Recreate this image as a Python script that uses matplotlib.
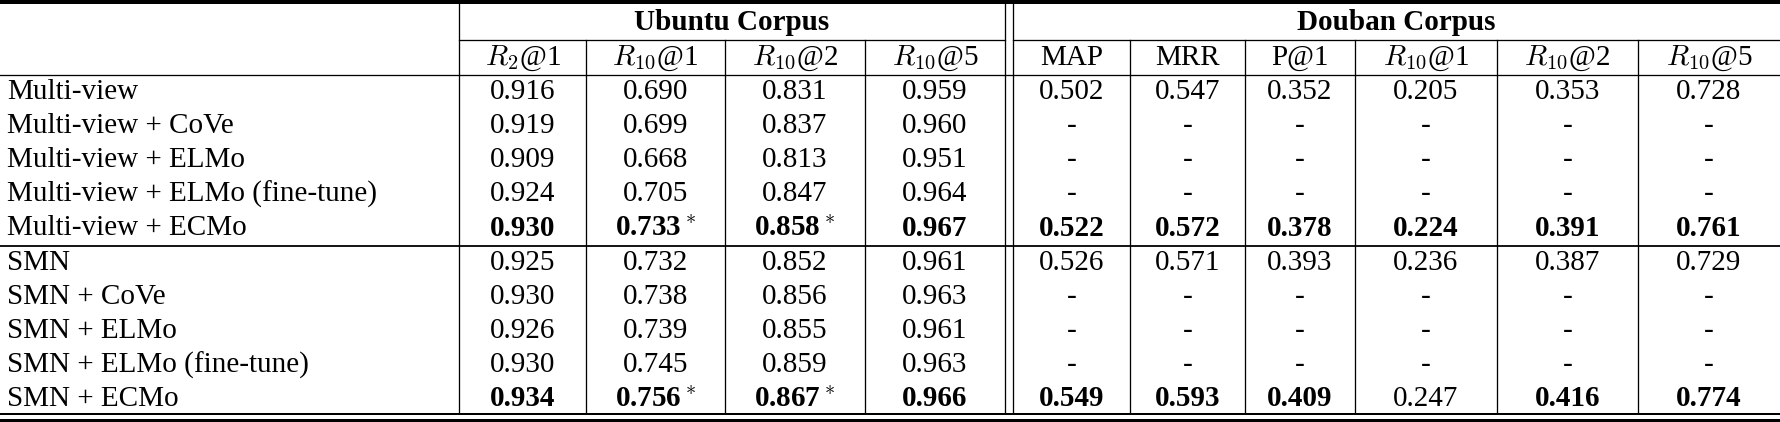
import matplotlib
matplotlib.use("Agg")
import matplotlib.pyplot as plt

plt.rcParams['font.family'] = ['Liberation Serif', 'DejaVu Serif']
plt.rcParams['mathtext.fontset'] = 'cm'

groups = ["Ubuntu Corpus", "Douban Corpus"]
metrics = [r"$R_2$@1", r"$R_{10}$@1", r"$R_{10}$@2", r"$R_{10}$@5",
           "MAP", "MRR", "P@1", r"$R_{10}$@1", r"$R_{10}$@2", r"$R_{10}$@5"]
models = ["Multi-view", "Multi-view + CoVe", "Multi-view + ELMo",
          "Multi-view + ELMo (fine-tune)", "Multi-view + ECMo",
          "SMN", "SMN + CoVe", "SMN + ELMo", "SMN + ELMo (fine-tune)", "SMN + ECMo"]
values = [
    ["0.916", "0.690", "0.831", "0.959", "0.502", "0.547", "0.352", "0.205", "0.353", "0.728"],
    ["0.919", "0.699", "0.837", "0.960", "-", "-", "-", "-", "-", "-"],
    ["0.909", "0.668", "0.813", "0.951", "-", "-", "-", "-", "-", "-"],
    ["0.924", "0.705", "0.847", "0.964", "-", "-", "-", "-", "-", "-"],
    ["0.930", "0.733*", "0.858*", "0.967", "0.522", "0.572", "0.378", "0.224", "0.391", "0.761"],
    ["0.925", "0.732", "0.852", "0.961", "0.526", "0.571", "0.393", "0.236", "0.387", "0.729"],
    ["0.930", "0.738", "0.856", "0.963", "-", "-", "-", "-", "-", "-"],
    ["0.926", "0.739", "0.855", "0.961", "-", "-", "-", "-", "-", "-"],
    ["0.930", "0.745", "0.859", "0.963", "-", "-", "-", "-", "-", "-"],
    ["0.934", "0.756*", "0.867*", "0.966", "0.549", "0.593", "0.409", "0.247", "0.416", "0.774"],
]
bold = [[False]*10, [False]*10, [False]*10, [False]*10, [True]*10,
        [False]*10, [False]*10, [False]*10, [False]*10,
        [True]*7 + [False] + [True]*2]

W, H = 1780, 422
fig = plt.figure(figsize=(W/100, H/100), dpi=100)
ax = fig.add_axes([0, 0, 1, 1])
ax.set_xlim(0, W); ax.set_ylim(H, 0); ax.axis('off')

xl = [459, 586, 725, 865, 1013, 1130, 1245, 1355, 1497, 1638]
xr = [586, 725, 865, 1005, 1130, 1245, 1355, 1497, 1638, 1780]
px = 0.72
fs = 21

ax.plot([0, W], [2, 2], color='black', lw=4*px, solid_capstyle='butt')
ax.plot([459, 1005], [40, 40], color='black', lw=1.3*px)
ax.plot([1013, W], [40, 40], color='black', lw=1.3*px)
ax.plot([0, W], [75, 75], color='black', lw=1.3*px)
ax.plot([0, W], [246, 246], color='black', lw=1.8*px)
ax.plot([0, W], [414, 414], color='black', lw=2*px)
ax.plot([0, W], [419.5, 419.5], color='black', lw=3*px)

ax.plot([459, 459], [4, 413], color='black', lw=1.3*px)
ax.plot([1005, 1005], [4, 413], color='black', lw=1.3*px)
ax.plot([1013, 1013], [4, 413], color='black', lw=1.3*px)
for x in [586, 725, 865, 1130, 1245, 1355, 1497, 1638]:
    ax.plot([x, x], [40, 413], color='black', lw=1.3*px)

ax.text((459+1005)/2, 22, groups[0], ha='center', va='center', fontsize=fs, fontweight='bold')
ax.text((1013+1780)/2, 22, groups[1], ha='center', va='center', fontsize=fs, fontweight='bold')
for i, m in enumerate(metrics):
    ax.text((xl[i]+xr[i])/2, 58, m, ha='center', va='center', fontsize=fs)

ys = [92, 126, 160, 194, 228, 263, 297, 331, 365, 399]
for r, name in enumerate(models):
    ax.text(7, ys[r], name, ha='left', va='center', fontsize=fs)
    for c, v in enumerate(values[r]):
        txt = v.replace('*', r'$^*$')
        ax.text((xl[c]+xr[c])/2, ys[r], txt, ha='center', va='center', fontsize=fs,
                fontweight='bold' if bold[r][c] else 'normal')

fig.savefig('out.png', dpi=100)
